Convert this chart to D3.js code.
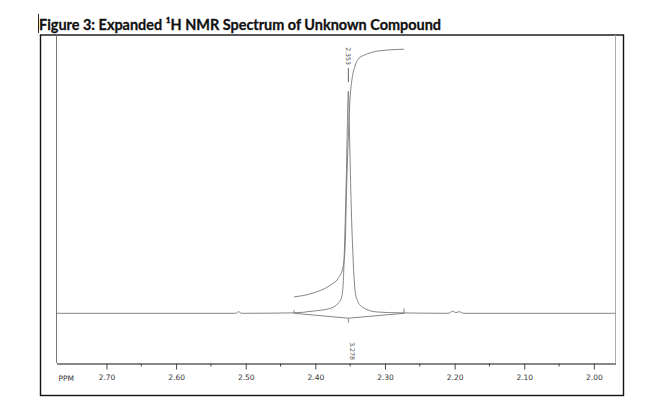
<!DOCTYPE html>
<html><head><meta charset="utf-8">
<script src="https://cdn.jsdelivr.net/npm/d3@7"></script>
<style>
html,body{margin:0;padding:0;background:#fff}
svg{display:block}
text{font-family:"DejaVu Sans",sans-serif}
</style></head><body>
<div id="chart"></div>
<script>
const titleText = "Figure 3: Expanded ¹H NMR Spectrum of Unknown Compound";
const axisName = "PPM";
const majorTicks = [2.70,2.60,2.50,2.40,2.30,2.20,2.10,2.00];
const minorTicks = [2.65,2.55,2.45,2.35,2.25,2.15,2.05];
const peakLabel = "2.353";
const integralLabel = "3.278";
const peakPpm = 2.3526;

const spectrumPpm = [2.7718,2.514,2.5105,2.506,2.4306,2.4033,2.3789,2.3669,2.3621,2.3598,2.3583,2.3560,2.3542,2.3526,2.3512,2.3491,2.3463,2.3430,2.3397,2.3333,2.3118,2.2783,2.2093,2.2026,2.1986,2.1935,2.1864,1.9689];
const spectrumInt = [0,0,0.7,0,0.2,1.0,2.2,4.6,7.5,14.8,28.3,55.2,82.1,100,84.3,55.2,28.3,10.3,5.8,3.0,0.6,0.2,0,0.9,0.3,0.7,0,0];

const integralPpm = [2.4306,2.4033,2.3789,2.3674,2.3606,2.3573,2.3552,2.3523,2.3501,2.3473,2.3430,2.3387,2.3261,2.3070,2.2726];
const integralInt = [7.4,9.1,12.6,15.7,20.2,29.6,55.2,82.1,96.9,105.4,111.2,114.3,116.6,118.1,118.8];

const bracketPpm = [2.4306,2.3526,2.2726];
const bracketInt = [0,-2.2,0];

const W=670,H=412;
const svg=d3.select("#chart").append("svg").attr("width",W).attr("height",H);
const x=d3.scaleLinear().domain([2.7718,1.9689]).range([56.5,615.5]);
const y=d3.scaleLinear().domain([0,100]).range([313.3,91]);
const gray="#777";

// title and text cursor
svg.append("text").attr("x",39).attr("y",29.5)
  .style("font-family","Lato,'Open Sans',sans-serif").style("font-weight",700).style("font-size","15.5px")
  .attr("fill","#111").attr("stroke","#111").attr("stroke-width",0.3)
  .attr("textLength",402).attr("lengthAdjust","spacingAndGlyphs").text(titleText);
svg.append("line").attr("x1",38.5).attr("x2",38.5).attr("y1",14).attr("y2",33).attr("stroke","#222").attr("stroke-width",1);

// frame
svg.append("rect").attr("x",40.5).attr("y",35).attr("width",583).attr("height",360.5)
  .attr("fill","none").attr("stroke","#111").attr("stroke-width",1.4);
svg.append("line").attr("x1",56.5).attr("x2",56.5).attr("y1",35).attr("y2",363).attr("stroke","#777").attr("stroke-width",1);
svg.append("line").attr("x1",615.5).attr("x2",615.5).attr("y1",35).attr("y2",363).attr("stroke","#aaa").attr("stroke-width",1);

// axis
const axY=363.5;
const ax=svg.append("g").attr("transform",`translate(0,${axY})`)
  .call(d3.axisBottom(x).tickValues(majorTicks).tickFormat(d3.format(".2f")).tickSize(6).tickSizeOuter(0).tickPadding(5));
ax.select(".domain").attr("stroke","#111").attr("stroke-width",1);
ax.selectAll(".tick line").attr("stroke","#444");
ax.selectAll(".tick text").attr("fill","#333").style("font-size","7.5px").style("font-family","'DejaVu Sans',sans-serif");
svg.append("g").attr("transform",`translate(0,${axY})`)
  .selectAll("line").data(minorTicks).join("line")
  .attr("x1",d=>x(d)).attr("x2",d=>x(d)).attr("y1",0).attr("y2",3).attr("stroke","#444");
svg.append("text").attr("x",58.5).attr("y",380.5).attr("fill","#333").style("font-size","7.5px").text(axisName);

// curves
const line=d3.line().x(d=>x(d[0])).y(d=>y(d[1]));
const lineC=d3.line().x(d=>x(d[0])).y(d=>y(d[1])).curve(d3.curveMonotoneX);
function path(px,iy,gen,col,w){svg.append("path").datum(px.map((p,i)=>[p,iy[i]])).attr("d",gen).attr("fill","none").attr("stroke",col).attr("stroke-width",w);}
path(spectrumPpm,spectrumInt,lineC,gray,0.9);
path(integralPpm,integralInt,lineC,gray,0.9);
path(bracketPpm,bracketInt,line,gray,0.9);

// integral end marks
[[bracketPpm[0],0,1.4],[bracketPpm[2],0,2.2],[bracketPpm[1],-2.2,-2]].forEach(m=>{
  svg.append("line").attr("x1",x(m[0])).attr("x2",x(m[0])).attr("y1",y(m[1])).attr("y2",y(m[1]+m[2])).attr("stroke",gray).attr("stroke-width",0.9);
});

// peak label
const px=x(peakPpm);
svg.append("line").attr("x1",px).attr("x2",px).attr("y1",68).attr("y2",82).attr("stroke","#555").attr("stroke-width",0.9);
function rot(txt,cx,cy){svg.append("text").attr("transform",`translate(${cx},${cy}) rotate(90)`)
  .attr("text-anchor","middle").attr("dominant-baseline","central").attr("fill","#444").style("font-size","6.2px").text(txt);}
rot(peakLabel,px,56);
rot(integralLabel,px+4.3,351);
</script>
</body></html>
